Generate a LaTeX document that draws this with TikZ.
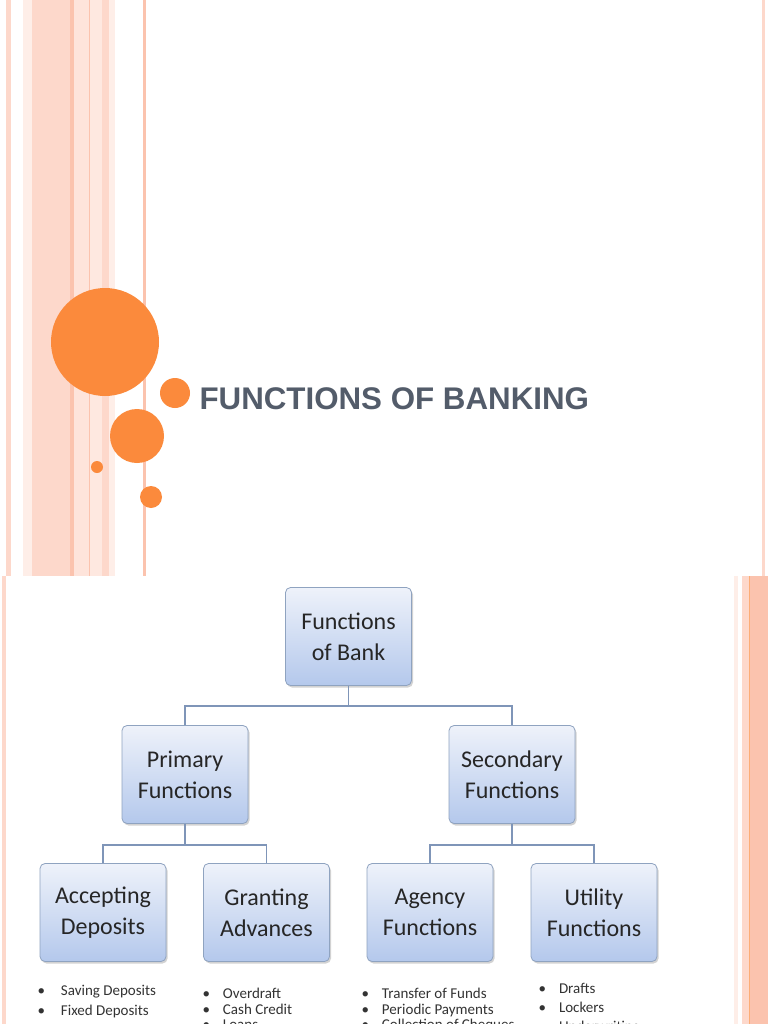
\documentclass[tikz,border=0pt]{standalone}
\usepackage{fontspec}
\setmainfont{Carlito}
\newfontfamily\titlefont{Liberation Sans}
\usetikzlibrary{shadows}
\definecolor{pk}{HTML}{FDD8CB}
\definecolor{pkd}{HTML}{FBC3AE}
\definecolor{pkl}{HTML}{FEEEE8}
\definecolor{orn}{HTML}{FB8A3C}
\definecolor{bxl}{HTML}{B4C8EC}
\definecolor{bxt}{HTML}{EEF2FA}
\definecolor{bxb}{HTML}{8FA3C0}
\definecolor{ln}{HTML}{7F95B8}
\definecolor{ttl}{HTML}{535C6A}
\tikzset{
 bx/.style={draw=bxb,line width=0.8pt,rounded corners=5pt,minimum width=126pt,minimum height=98pt,
   top color=bxt,bottom color=bxl,align=center,font=\fontsize{24}{31}\selectfont,text=black!85,
   drop shadow={shadow xshift=1.5pt,shadow yshift=-2pt,opacity=0.35}},
 con/.style={draw=ln,line width=1.6pt},
 lst/.style={anchor=north west,align=left,text=black!80},
 dot/.style={circle,fill=orn,inner sep=0pt}
}
\begin{document}
\begin{tikzpicture}[x=1pt,y=-1pt]
\useasboundingbox (0,0) rectangle (768,1024);
\clip (0,0) rectangle (768,1024);
\fill[white] (0,0) rectangle (768,1024);
% top-left stripes
\fill[pk] (6,0) rectangle (11,576);
\fill[pkl] (23,0) rectangle (32,576);
\fill[pk] (32,0) rectangle (70,576);
\fill[pkd] (70,0) rectangle (74,576);
\fill[pk!70] (74,0) rectangle (89,576);
\fill[pkd] (89,0) rectangle (90,576);
\fill[pk!60] (90,0) rectangle (102,576);
\fill[pk] (102,0) rectangle (109,576);
\fill[pkl] (109,0) rectangle (115,576);
\fill[pkd] (143,0) rectangle (146,576);
\fill[pk] (762,0) rectangle (765,576);
% bottom stripes
\fill[pk] (2,576) rectangle (6,1024);
\fill[pkl] (734,576) rectangle (738,1024);
\fill[pk] (742,576) rectangle (749,1024);
\fill[orn!70] (749,576) rectangle (750,1024);
\fill[pkd] (750,576) rectangle (768,1024);
% circles
\node[dot,minimum size=108pt] (c1) at (105,342) {};
\node[dot,minimum size=30pt] (c2) at (175,393) {};
\node[dot,minimum size=54pt] (c3) at (137,436) {};
\node[dot,minimum size=12pt] (c4) at (97,467) {};
\node[dot,minimum size=22pt] (c5) at (151,497) {};
\node[anchor=west,text=ttl,font=\titlefont\bfseries\fontsize{31.3}{34}\selectfont] (title) at (196,399) {FUNCTIONS OF BANKING};
% boxes
\node[bx] (fb) at (348.5,636.5) {Functions\\of Bank};
\node[bx] (pf) at (185,774.5) {Primary\\Functions};
\node[bx] (sf) at (512,774.5) {Secondary\\Functions};
\node[bx] (ad) at (103,912.5) {Accepting\\Deposits};
\node[bx] (ga) at (266.5,912.5) {Granting\\Advances};
\node[bx] (ag) at (430,912.5) {Agency\\Functions};
\node[bx] (uf) at (594,912.5) {Utility\\Functions};
% connectors
\coordinate (j1) at (348.5,706);
\coordinate (j2) at (185,845);
\coordinate (j3) at (512,845);
\draw[con] (fb.south) -- (j1);
\draw[con] (pf.north) |- (j1) -| (sf.north);
\draw[con] (pf.south) -- (j2);
\draw[con] (ad.north) |- (j2) -| (ga.north);
\draw[con] (sf.south) -- (j3);
\draw[con] (ag.north) |- (j3) -| (uf.north);
% lists
\node[lst,font=\fontsize{15}{20}\selectfont] (l1) at (34,982) {\textbullet\hspace{16pt}Saving Deposits\\\textbullet\hspace{16pt}Fixed Deposits\\\textbullet\hspace{16pt}Current Deposits};
\node[lst,font=\fontsize{15}{15.5}\selectfont] (l2) at (199,985) {\textbullet\hspace{13pt}Overdraft\\\textbullet\hspace{13pt}Cash Credit\\\textbullet\hspace{13pt}Loans};
\node[lst,font=\fontsize{15}{15.5}\selectfont] (l3) at (358,985) {\textbullet\hspace{13pt}Transfer of Funds\\\textbullet\hspace{13pt}Periodic Payments\\\textbullet\hspace{13pt}Collection of Cheques};
\node[lst,font=\fontsize{15}{19}\selectfont] (l4) at (535,980) {\textbullet\hspace{13pt}Drafts\\\textbullet\hspace{13pt}Lockers\\\textbullet\hspace{13pt}Underwriting};
\end{tikzpicture}
\end{document}
